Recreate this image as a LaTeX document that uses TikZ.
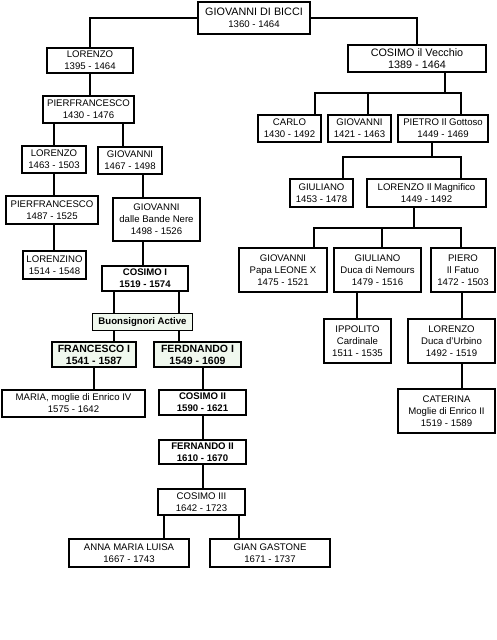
\documentclass[tikz,border=0pt]{standalone}
\usepackage{fontspec}
\setmainfont{Liberation Sans}
\usetikzlibrary{calc}

\definecolor{paleGreen}{RGB}{240,248,238}

\tikzset{
  person/.style={draw, rectangle, line width=2pt, fill=white, align=center, inner sep=0pt, font=\fontsize{9.6}{12}\selectfont},
  ducal/.style={person, fill=paleGreen, font=\bfseries\fontsize{10.5}{12}\selectfont},
  link/.style={line width=2pt},
}

\begin{document}
\begin{tikzpicture}[x=1pt, y=-1pt]
				\fill[white] (0,0) rectangle (497,640);
				\useasboundingbox (0,0) rectangle (497,640);
				
				% top of the tree
				\node[person, minimum width=112pt, minimum height=32pt] (bicci) at (254,18) {{\fontsize{10.8}{12}\selectfont GIOVANNI DI BICCI}\\1360 - 1464};
				\node[person, minimum width=138pt, minimum height=27pt, font=\fontsize{10.8}{12}\selectfont] (cosvec) at (417,58.5) {COSIMO il Vecchio\\1389 - 1464};
				
				% line of Lorenzo
				\node[person, minimum width=86pt, minimum height=25pt] (lor1) at (90,60.5) {LORENZO\\1395 - 1464};
				\node[person, minimum width=91pt, minimum height=27pt] (pierf1) at (88.5,109.5) {PIERFRANCESCO\\1430 - 1476};
				\node[person, minimum width=64pt, minimum height=27pt] (lor2) at (54,159.5) {LORENZO\\1463 - 1503};
				\node[person, minimum width=64pt, minimum height=27pt] (giov2) at (130,160.5) {GIOVANNI\\1467 - 1498};
				\node[person, minimum width=92pt, minimum height=28pt] (pierf2) at (52,210) {PIERFRANCESCO\\1487 - 1525};
				\node[person, minimum width=63pt, minimum height=28pt] (lorzino) at (54.5,265) {LORENZINO\\1514 - 1548};
				\node[person, minimum width=87pt, minimum height=43pt] (giovbn) at (156.5,219.5) {GIOVANNI\\dalle Bande Nere\\1498 - 1526};
				\node[person, minimum width=86pt, minimum height=25pt, font=\bfseries\fontsize{9.6}{12}\selectfont] (cosimo1) at (145,278.5) {COSIMO I\\1519 - 1574};
				\node[person, line width=1.2pt, fill=paleGreen, minimum width=100pt, minimum height=17pt, font=\bfseries\fontsize{9.6}{12}\selectfont] (buon) at (142.5,322) {Buonsignori Active};
				\node[ducal, minimum width=84pt, minimum height=25pt] (franc) at (94,354.5) {FRANCESCO I\\1541 - 1587};
				\node[ducal, minimum width=87pt, minimum height=25pt] (ferd) at (197.5,354.5) {FERDNANDO I\\1549 - 1609};
				\node[person, minimum width=143pt, minimum height=27pt] (maria) at (73.5,403.5) {MARIA, moglie di Enrico IV\\1575 - 1642};
				\node[person, minimum width=87pt, minimum height=25pt, font=\bfseries\fontsize{9.6}{12}\selectfont] (cosimo2) at (202.5,402.5) {COSIMO II\\1590 - 1621};
				\node[person, minimum width=87pt, minimum height=24pt, font=\bfseries\fontsize{9.6}{12}\selectfont] (fern2) at (202.5,452) {FERNANDO II\\1610 - 1670};
				\node[person, minimum width=87pt, minimum height=26pt] (cosimo3) at (201.5,502) {COSIMO III\\1642 - 1723};
				\node[person, minimum width=120pt, minimum height=28pt] (anna) at (129,553) {ANNA MARIA LUISA\\1667 - 1743};
				\node[person, minimum width=120pt, minimum height=28pt] (gian) at (270,553) {GIAN GASTONE\\1671 - 1737};
				
				% line of Cosimo il Vecchio
				\node[person, minimum width=63pt, minimum height=27pt] (carlo) at (289.5,128.5) {CARLO\\1430 - 1492};
				\node[person, minimum width=63pt, minimum height=27pt] (giov3) at (359.5,128.5) {GIOVANNI\\1421 - 1463};
				\node[person, minimum width=90pt, minimum height=27pt] (pietro) at (443,128.5) {PIETRO Il Gottoso\\1449 - 1469};
				\node[person, minimum width=63pt, minimum height=28pt] (giul1) at (321.5,193) {GIULIANO\\1453 - 1478};
				\node[person, minimum width=119pt, minimum height=28pt] (lormag) at (426.5,193) {LORENZO Il Magnifico\\1449 - 1492};
				\node[person, minimum width=88pt, minimum height=44pt] (giov4) at (283,270) {GIOVANNI\\Papa LEONE X\\1475 - 1521};
				\node[person, minimum width=87pt, minimum height=44pt] (giul2) at (377.5,270) {GIULIANO\\Duca di Nemours\\1479 - 1516};
				\node[person, minimum width=64pt, minimum height=44pt] (piero) at (463,270) {PIERO\\Il Fatuo\\1472 - 1503};
				\node[person, minimum width=67pt, minimum height=44pt] (ippol) at (357.5,341) {IPPOLITO\\Cardinale\\1511 - 1535};
				\node[person, minimum width=87pt, minimum height=44pt] (lorurb) at (451.5,341) {LORENZO\\Duca d'Urbino\\1492 - 1519};
				\node[person, minimum width=97pt, minimum height=44pt] (cater) at (446.5,411) {CATERINA\\Moglie di Enrico II\\1519 - 1589};
				
				% where the lines drop
				\coordinate (dGio) at (123,0);
				\coordinate (dBan) at (143,0);
				\coordinate (dLzo) at (54,0);
				\coordinate (dFra) at (114,0);
				\coordinate (dFer) at (179,0);
				\coordinate (dCo2) at (203,0);
				\coordinate (dAnn) at (164,0);
				\coordinate (dGia) at (239,0);
				\coordinate (dIpp) at (357,0);
				\coordinate (dUrb) at (462,0);
				\coordinate (busA) at (445,93);
				\coordinate (dropA1) at (315,93);
				\coordinate (dropA2) at (368,93);
				\coordinate (dropA3) at (461,93);
				\coordinate (busB) at (432,157);
				\coordinate (dropB1) at (343,157);
				\coordinate (dropB2) at (461,157);
				\coordinate (busC) at (414,228);
				\coordinate (dropC1) at (314,228);
				\coordinate (dropC2) at (382,228);
				\coordinate (dropC3) at (461,228);
				
				\draw[link] (bicci.west) -| (lor1.north);
				\draw[link] (bicci.east) -| (cosvec.north);
				
				\draw[link] (lor1.south) -- (lor1.south |- pierf1.north);
				\draw[link] (lor2.north |- pierf1.south) -- (lor2.north);
				\draw[link] (dGio |- pierf1.south) -- (dGio |- giov2.north);
				\draw[link] (lor2.south) -- (lor2.south |- pierf2.north);
				\draw[link] (dLzo |- pierf2.south) -- (dLzo |- lorzino.north);
				\draw[link] (dBan |- giov2.south) -- (dBan |- giovbn.north);
				\draw[link] (dBan |- giovbn.south) -- (dBan |- cosimo1.north);
				\draw[link] (dFra |- cosimo1.south) -- (dFra |- buon.north);
				\draw[link] (dFer |- cosimo1.south) -- (dFer |- buon.north);
				\draw[link] (dFra |- buon.south) -- (dFra |- franc.north);
				\draw[link] (dFer |- buon.south) -- (dFer |- ferd.north);
				\draw[link] (franc.south) -- (franc.south |- maria.north);
				\draw[link] (dCo2 |- ferd.south) -- (dCo2 |- cosimo2.north);
				\draw[link] (dCo2 |- cosimo2.south) -- (dCo2 |- fern2.north);
				\draw[link] (dCo2 |- fern2.south) -- (dCo2 |- cosimo3.north);
				\draw[link] (dAnn |- cosimo3.south) -- (dAnn |- anna.north);
				\draw[link] (dGia |- cosimo3.south) -- (dGia |- gian.north);
				
				\draw[link] (busA |- cosvec.south) -- (busA);
				\draw[link] (dropA1 |- carlo.north) -- (dropA1) -- (dropA3) -- (dropA3 |- pietro.north);
				\draw[link] (dropA2) -- (dropA2 |- giov3.north);
				\draw[link] (busB |- pietro.south) -- (busB);
				\draw[link] (dropB1 |- giul1.north) -- (dropB1) -- (dropB2) -- (dropB2 |- lormag.north);
				\draw[link] (busC |- lormag.south) -- (busC);
				\draw[link] (dropC1 |- giov4.north) -- (dropC1) -- (dropC3) -- (dropC3 |- piero.north);
				\draw[link] (dropC2) -- (dropC2 |- giul2.north);
				\draw[link] (dIpp |- giul2.south) -- (dIpp |- ippol.north);
				\draw[link] (dUrb |- piero.south) -- (dUrb |- lorurb.north);
				\draw[link] (dUrb |- lorurb.south) -- (dUrb |- cater.north);
			\end{tikzpicture}
\end{document}
